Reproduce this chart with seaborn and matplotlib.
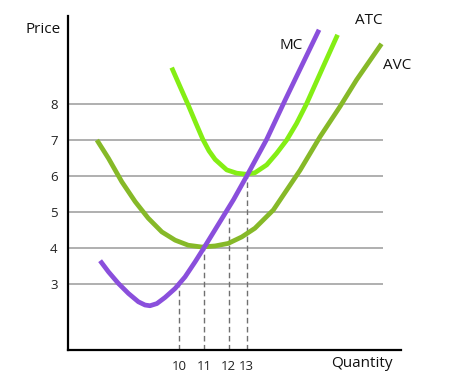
import matplotlib
matplotlib.use("Agg")
import matplotlib.pyplot as plt
import seaborn as sns
import pandas as pd

# curves (quantity, price)
mc_q = [6.79, 7.13, 7.53, 7.94, 8.34, 8.61, 8.81, 9.09, 9.42, 9.83, 10.23, 10.64, 10.99,
        11.60, 12.20, 12.73, 13.54, 14.28, 15.66]
mc_p = [3.65, 3.34, 3.02, 2.74, 2.51, 2.42, 2.40, 2.46, 2.63, 2.88, 3.20, 3.62, 4.00,
        4.68, 5.35, 6.00, 7.02, 8.10, 10.06]

atc_q = [9.69, 10.03, 10.36, 10.68, 10.95, 11.20, 11.45, 11.92, 12.32, 12.70, 13.06, 13.54,
         13.94, 14.35, 14.75, 15.15, 15.83, 16.41]
atc_p = [9.01, 8.48, 7.97, 7.45, 7.02, 6.70, 6.46, 6.17, 6.08, 6.05, 6.09, 6.31,
         6.63, 7.00, 7.46, 8.00, 9.04, 9.92]

avc_q = [6.66, 7.13, 7.67, 8.21, 8.74, 9.29, 9.83, 10.36, 10.91, 11.45, 11.98, 12.53, 13.06,
         13.81, 14.35, 14.89, 15.70, 16.51, 17.18, 18.19]
avc_p = [7.00, 6.49, 5.84, 5.29, 4.83, 4.45, 4.22, 4.08, 4.03, 4.06, 4.13, 4.31, 4.55,
         5.06, 5.61, 6.16, 7.09, 7.93, 8.67, 9.67]

price_ticks = [3, 4, 5, 6, 7, 8]
qty_pos = [10, 11, 12, 12.73]
qty_labels = ["10", "11", "12", "13"]
drop_heights = [2.95, 4.0, 4.9, 6.0]

sns.set_theme(style="white")
plt.rcParams["font.family"] = ["Open Sans", "DejaVu Sans"]

fig = plt.figure(figsize=(4.74, 3.92), dpi=100)
ax = fig.add_axes([0.1435, 0.107, 0.7025, 0.852])

x_lo, x_hi = 5.49, 18.98
y_lo, y_hi = 1.17, 10.44

ax.hlines(price_ticks, x_lo, 18.25, color="#9a9a9a", lw=1.1, zorder=1)
ax.vlines(qty_pos, y_lo, drop_heights, color="#707070", lw=1.0,
          linestyles=(0, (4, 2.5)), zorder=1)

curves = [
    ("AVC", avc_q, avc_p, "#86b928"),
    ("ATC", atc_q, atc_p, "#84ee14"),
    ("MC", mc_q, mc_p, "#8a4fdc"),
]
for name, q, p, col in curves:
    df = pd.DataFrame({"q": q, "p": p})
    sns.lineplot(data=df, x="q", y="p", ax=ax, color=col, lw=3.4,
                 sort=False, solid_capstyle="butt", solid_joinstyle="round", zorder=3)

ax.set_xlim(x_lo, x_hi)
ax.set_ylim(y_lo, y_hi)
ax.set_xlabel("")
ax.set_ylabel("")

ax.set_yticks(price_ticks)
ax.set_yticklabels([str(t) for t in price_ticks])
ax.set_xticks(qty_pos)
ax.set_xticklabels(qty_labels)
ax.tick_params(axis="both", length=4, width=1, color="#555555",
               labelsize=9.5, labelcolor="#222222", pad=3, direction="out")
ax.tick_params(axis="y", length=4.5)

for side in ["top", "right"]:
    ax.spines[side].set_visible(False)
for side in ["left", "bottom"]:
    ax.spines[side].set_color("black")
    ax.spines[side].set_linewidth(1.6)

txt = dict(fontsize=11, color="#111111", ha="center", va="center", clip_on=False)
ax.text(4.48, 10.08, "Price", **txt)
ax.text(17.40, 0.81, "Quantity", **txt)
ax.text(14.52, 9.61, "MC", **txt)
ax.text(17.68, 10.31, "ATC", **txt)
ax.text(18.81, 9.06, "AVC", **txt)

fig.savefig("out.png", dpi=100)
